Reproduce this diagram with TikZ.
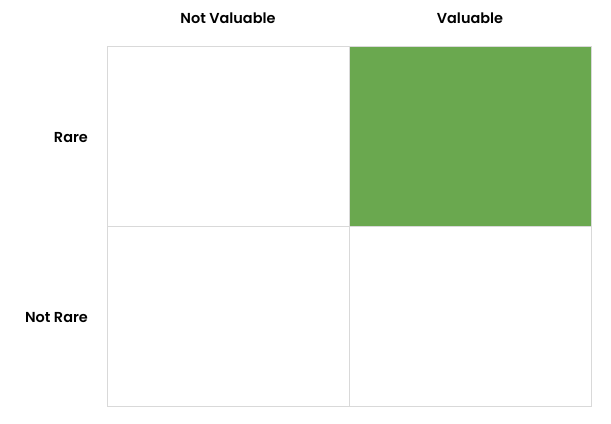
\documentclass[tikz,border=0pt]{standalone}
\usepackage{fontspec}
\setmainfont{Poppins}[UprightFont=* SemiBold]
\definecolor{gridgray}{HTML}{D9D9D9}
\definecolor{valgreen}{HTML}{6AA84F}
\begin{document}
\begin{tikzpicture}[x=1bp,y=-1bp,
  cell/.style={draw=gridgray,line width=0.8bp},
  lbl/.style={font=\fontsize{14.5}{16}\selectfont,inner sep=0pt}]
\useasboundingbox (0,0) rectangle (611,423);
\fill[white] (0,0) rectangle (611,423);
\fill[valgreen] (349,46) rectangle (591,226);
\draw[cell] (107,46) rectangle (591,406);
\draw[cell] (349,46) -- (349,406);
\draw[cell] (107,226) -- (591,226);
\node[lbl] (nv) at (228,18) {Not Valuable};
\node[lbl] (v) at (470,18) {Valuable};
\node[lbl,anchor=east] (r) at (88,138) {Rare};
\node[lbl,anchor=east] (nr) at (88,318) {Not Rare};
\end{tikzpicture}
\end{document}
